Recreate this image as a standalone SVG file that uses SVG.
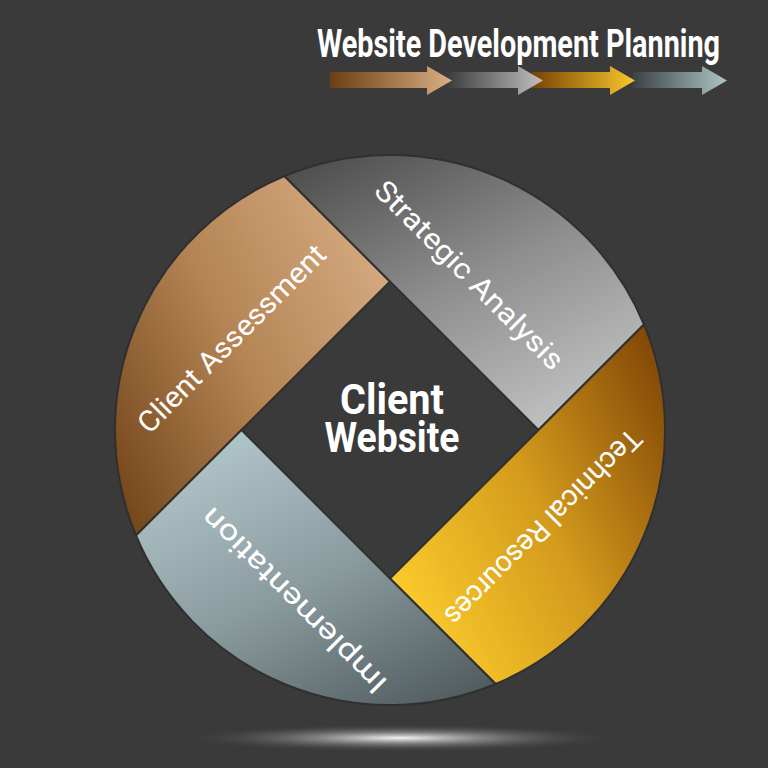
<svg xmlns="http://www.w3.org/2000/svg" width="768" height="768" viewBox="0 0 768 768">
  <defs>
    <style>
      .band { stroke: #303030; stroke-width: 2; stroke-linejoin: miter; }
      .lbl { font-family: Roboto, "Liberation Sans", Arial, sans-serif; font-size: 29px; fill: #ffffff; text-anchor: middle; }
      .bold { font-family: "Liberation Sans Narrow", Roboto, "Liberation Sans", Arial, sans-serif; font-weight: bold; fill: #ffffff; }
    </style>
    <linearGradient id="gCA" gradientUnits="userSpaceOnUse" x1="-115" y1="-110" x2="-235" y2="245">
      <stop offset="0" stop-color="#d4a97f"/>
      <stop offset="0.45" stop-color="#b48454"/>
      <stop offset="1" stop-color="#693b10"/>
    </linearGradient>
    <linearGradient id="gSA" gradientUnits="userSpaceOnUse" x1="-115" y1="-110" x2="-235" y2="245">
      <stop offset="0" stop-color="#c0c0c0"/>
      <stop offset="0.45" stop-color="#8e8e8e"/>
      <stop offset="1" stop-color="#434343"/>
    </linearGradient>
    <linearGradient id="gTR" gradientUnits="userSpaceOnUse" x1="-115" y1="-110" x2="-235" y2="245">
      <stop offset="0" stop-color="#fbcb2c"/>
      <stop offset="0.45" stop-color="#d39a1c"/>
      <stop offset="1" stop-color="#733802"/>
    </linearGradient>
    <linearGradient id="gIM" gradientUnits="userSpaceOnUse" x1="-115" y1="-110" x2="-235" y2="245">
      <stop offset="0" stop-color="#b0c5c8"/>
      <stop offset="0.45" stop-color="#8a9b9e"/>
      <stop offset="1" stop-color="#465053"/>
    </linearGradient>
    <linearGradient id="a1" x1="0" y1="0" x2="1" y2="0">
      <stop offset="0" stop-color="#6a3f13"/>
      <stop offset="1" stop-color="#dbae84"/>
    </linearGradient>
    <linearGradient id="a2" x1="0" y1="0" x2="1" y2="0">
      <stop offset="0" stop-color="#3c3c3c"/>
      <stop offset="1" stop-color="#c0c0c0"/>
    </linearGradient>
    <linearGradient id="a3" x1="0" y1="0" x2="1" y2="0">
      <stop offset="0" stop-color="#7a4204"/>
      <stop offset="1" stop-color="#f8c82c"/>
    </linearGradient>
    <linearGradient id="a4" x1="0" y1="0" x2="1" y2="0">
      <stop offset="0" stop-color="#3b4345"/>
      <stop offset="1" stop-color="#aec4c6"/>
    </linearGradient>
    <radialGradient id="glow" cx="0.5" cy="0.5" r="0.5">
      <stop offset="0" stop-color="#ffffff" stop-opacity="0.95"/>
      <stop offset="0.35" stop-color="#d8d8d8" stop-opacity="0.5"/>
      <stop offset="1" stop-color="#3b3b3b" stop-opacity="0"/>
    </radialGradient>
  </defs>

  <rect x="0" y="0" width="768" height="768" fill="#3a3a3a"/>

  <g id="title">
    <text class="bold" x="317" y="57" font-size="38" textLength="403" lengthAdjust="spacingAndGlyphs">Website Development Planning</text>
  </g>

  <g id="arrows">
    <path d="M633 72 H702 V66 L727 80.5 L702 95 V88 H633 Z" fill="url(#a4)"/>
    <path d="M532 72 H610 V66 L635 80.5 L610 95 V88 H532 Z" fill="url(#a3)"/>
    <path d="M447 72 H518 V66 L543 80.5 L518 95 V88 H447 Z" fill="url(#a2)"/>
    <path d="M330 72 H427 V66 L452 80.5 L427 95 V88 H330 Z" fill="url(#a1)"/>
  </g>

  <g id="client-assessment">
    <path class="band" transform="translate(390 430) rotate(45)" d="M -105 -105 L -254.2 -105 A 275 275 0 0 0 -105 254.2 Z" fill="url(#gCA)"/>
    <text class="lbl" transform="translate(238.6 345.6) rotate(-45)" textLength="253" lengthAdjust="spacingAndGlyphs">Client Assessment</text>
  </g>

  <g id="strategic-analysis">
    <path class="band" transform="translate(390 430) rotate(135)" d="M -105 -105 L -254.2 -105 A 275 275 0 0 0 -105 254.2 Z" fill="url(#gSA)"/>
    <text class="lbl" transform="translate(462.3 282.1) rotate(45)" textLength="254" lengthAdjust="spacingAndGlyphs">Strategic Analysis</text>
  </g>

  <g id="technical-resources">
    <path class="band" transform="translate(390 430) rotate(225)" d="M -105 -105 L -254.2 -105 A 275 275 0 0 0 -105 254.2 Z" fill="url(#gTR)"/>
    <text class="lbl" transform="translate(536.1 520.1) rotate(135)" textLength="265" lengthAdjust="spacingAndGlyphs">Technical Resources</text>
  </g>

  <g id="implementation">
    <path class="band" transform="translate(390 430) rotate(315)" d="M -105 -105 L -254.2 -105 A 275 275 0 0 0 -105 254.2 Z" fill="url(#gIM)"/>
    <text class="lbl" transform="translate(300.7 593.6) rotate(225)" textLength="249" lengthAdjust="spacingAndGlyphs">Implementation</text>
  </g>

  <g id="client-website">
    <text class="bold" x="392" y="414" font-size="42" text-anchor="middle" textLength="104" lengthAdjust="spacingAndGlyphs">Client</text>
    <text class="bold" x="392" y="452" font-size="42" text-anchor="middle" textLength="135" lengthAdjust="spacingAndGlyphs">Website</text>
  </g>

  <ellipse id="floor-glow" cx="400" cy="738" rx="220" ry="14" fill="url(#glow)"/>
</svg>
